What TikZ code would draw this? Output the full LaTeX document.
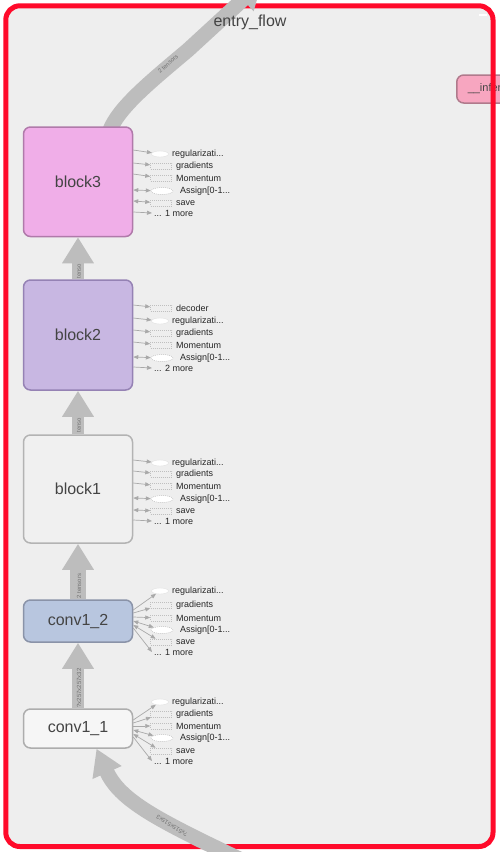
\documentclass[tikz,border=0pt]{standalone}
\usepackage{fontspec}
\setmainfont{Liberation Sans}
\usetikzlibrary{arrows.meta,shapes.geometric}
\definecolor{bgin}{HTML}{EEEEEE}
\definecolor{redb}{HTML}{FF0A2A}
\definecolor{flowc}{HTML}{BDBDBD}
\definecolor{bthreefill}{HTML}{F0AEE8}
\definecolor{bthreedraw}{HTML}{B07AAA}
\definecolor{btwofill}{HTML}{C8B7E2}
\definecolor{btwodraw}{HTML}{9582B4}
\definecolor{bonefill}{HTML}{F0F0F0}
\definecolor{bonedraw}{HTML}{B3B3B3}
\definecolor{ctwofill}{HTML}{B8C6DF}
\definecolor{ctwodraw}{HTML}{8A93A8}
\definecolor{conefill}{HTML}{F6F6F6}
\definecolor{conedraw}{HTML}{ADADAD}
\definecolor{inffill}{HTML}{F7A6C0}
\definecolor{infdraw}{HTML}{B07A8C}
\definecolor{txt}{HTML}{444444}
\definecolor{sidec}{HTML}{A9A9A9}
\pgfdeclarelayer{bottom}
\pgfdeclarelayer{back}
\pgfsetlayers{bottom,back,main}
\tikzset{
 blk/.style={draw, line width=1.5pt, rounded corners=7pt, minimum width=109pt, inner sep=0pt, text=txt, font=\fontsize{16}{19}\selectfont},
 flow/.style={draw=flowc, line width=12pt, -{Triangle[length=26pt,width=30pt]}},
 elab/.style={text=black!55, font=\fontsize{6}{7}\selectfont, inner sep=0pt},
 itemE/.style={ellipse, draw=black!12, fill=white, line width=0.4pt, minimum width=17pt, minimum height=6pt, inner sep=0pt},
 itemR/.style={rectangle, draw=black!25, dash pattern=on 1pt off 1pt, line width=0.5pt, minimum width=21pt, minimum height=6pt, inner sep=0pt},
 itemA/.style={ellipse, draw=black!25, dash pattern=on 1pt off 1pt, fill=white, line width=0.5pt, minimum width=22pt, minimum height=7pt, inner sep=0pt},
 itemN/.style={coordinate},
 ilab/.style={anchor=west, inner sep=0pt, text=black!85, font=\fontsize{9}{10}\selectfont},
 sa/.style={draw=sidec, line width=0.7pt, -{Triangle[length=5pt,width=4pt]}},
 sb/.style={draw=sidec, line width=0.7pt, {Triangle[length=5pt,width=4pt]}-{Triangle[length=5pt,width=4pt]}},
}
\newcommand{\sideitem}[9]{%
  \node[#5] (#2) at (#6,#4) {};
  \node[ilab] (#2t) at (#7,#4) {#8};
  \draw[#9] (#1.east |- 0,#3) -- (#2);
}
\begin{document}
\begin{tikzpicture}[x=1pt,y=-1pt]
\useasboundingbox (0,0) rectangle (499,852);
\begin{pgfonlayer}{bottom}
\fill[white] (0,0) rectangle (499,852);
\fill[bgin, rounded corners=14pt] (5.8,5.8) rectangle (493,846.5);
\node[draw=infdraw, fill=inffill, line width=1.5pt, rounded corners=7pt, anchor=west, minimum height=28pt, text width=60pt, align=left, inner xsep=11pt, text=txt, font=\fontsize{11}{13}\selectfont] (inf) at (456,89) {\_\_infer};
\draw[redb, line width=5pt, rounded corners=14pt] (5.8,5.8) rectangle (493,846.5);
\draw[white, line width=1.5pt] (479,15) -- (487,15);
\end{pgfonlayer}

\node[text=txt, font=\fontsize{16}{19}\selectfont] (title) at (250,22) {entry\_flow};

\node[blk, draw=bthreedraw, fill=bthreefill, minimum height=109.5pt] (b3) at (78,181.75) {block3};
\node[blk, draw=btwodraw, fill=btwofill, minimum height=110pt] (b2) at (78,335) {block2};
\node[blk, draw=bonedraw, fill=bonefill, minimum height=108pt] (b1) at (78,489) {block1};
\node[blk, draw=ctwodraw, fill=ctwofill, minimum height=42pt] (c2) at (78,621) {conv1\_2};
\node[blk, draw=conedraw, fill=conefill, minimum height=39pt] (c1) at (78,728.5) {conv1\_1};

\coordinate (topend) at (262,-18);
\coordinate (botstart) at (258,868);
\begin{pgfonlayer}{back}
\draw[flow, line width=15pt] ([xshift=31.5pt,yshift=-5pt]b3.north) .. controls (118,108) and (150,82) .. (188,50) -- (topend);
\draw[flow, line width=15pt] (botstart) -- (200,840) .. controls (150,815) and (118,797) .. ([xshift=18.5pt]c1.south);
\draw[flow] (b2.north) -- (b3.south);
\draw[flow] (b1.north) -- (b2.south);
\draw[flow, line width=16pt] (c2.north) -- (b1.south);
\draw[flow] (c1.north) -- (c2.south);
\end{pgfonlayer}
\node[elab, rotate=42] (ltop) at (168,64) {2 tensors};
\node[elab, rotate=148] (lbot) at (172,826) {?x515x515x3};
\node[elab, rotate=90] (l23) at (79,271) {tenso};
\node[elab, rotate=90] (l12) at (79,425) {tenso};
\node[elab, rotate=90] (lc1) at (79,586) {2 tensors};
\node[elab, rotate=90] (lcc) at (79,688) {?x257x257x32};

% block3
\sideitem{b3}{b3a}{150}{154}{itemE}{160}{172}{regularizati...}{sa}
\sideitem{b3}{b3b}{163}{166}{itemR}{161}{176}{gradients}{sa}
\sideitem{b3}{b3c}{174}{178}{itemR}{161}{176}{Momentum}{sa}
\sideitem{b3}{b3d}{190}{191}{itemA}{162}{180}{Assign[0-1...}{sb}
\sideitem{b3}{b3e}{201}{203}{itemR}{161}{176}{save}{sb}
\sideitem{b3}{b3f}{212}{213}{itemN}{152}{154}{... 1 more}{sa}
% block2
\sideitem{b2}{b2a}{305}{308}{itemR}{161}{176}{decoder}{sa}
\sideitem{b2}{b2b}{318}{321}{itemE}{160}{172}{regularizati...}{sa}
\sideitem{b2}{b2c}{330}{333}{itemR}{161}{176}{gradients}{sa}
\sideitem{b2}{b2d}{342}{345}{itemR}{161}{176}{Momentum}{sa}
\sideitem{b2}{b2e}{357}{358}{itemA}{162}{180}{Assign[0-1...}{sb}
\sideitem{b2}{b2f}{367}{368}{itemN}{152}{154}{... 2 more}{sa}
% block1
\sideitem{b1}{b1a}{460}{463}{itemE}{160}{172}{regularizati...}{sa}
\sideitem{b1}{b1b}{471}{474}{itemR}{161}{176}{gradients}{sa}
\sideitem{b1}{b1c}{483}{486}{itemR}{161}{176}{Momentum}{sa}
\sideitem{b1}{b1d}{498}{499}{itemA}{162}{180}{Assign[0-1...}{sb}
\sideitem{b1}{b1e}{510}{511}{itemR}{161}{176}{save}{sb}
\sideitem{b1}{b1f}{520}{521}{itemN}{152}{154}{... 1 more}{sa}
% conv1_2
\sideitem{c2}{c2a}{610}{591}{itemE}{160}{172}{regularizati...}{sa}
\sideitem{c2}{c2b}{613}{605}{itemR}{161}{176}{gradients}{sa}
\sideitem{c2}{c2c}{617}{618}{itemR}{161}{176}{Momentum}{sa}
\sideitem{c2}{c2d}{621}{630}{itemA}{162}{180}{Assign[0-1...}{sb}
\sideitem{c2}{c2e}{625}{642}{itemR}{161}{176}{save}{sb}
\sideitem{c2}{c2f}{628}{652}{itemN}{152}{154}{... 1 more}{sa}
% conv1_1
\sideitem{c1}{c1a}{720}{702}{itemE}{160}{172}{regularizati...}{sa}
\sideitem{c1}{c1b}{723}{714}{itemR}{161}{176}{gradients}{sa}
\sideitem{c1}{c1c}{726}{726}{itemR}{161}{176}{Momentum}{sa}
\sideitem{c1}{c1d}{730}{738}{itemA}{162}{180}{Assign[0-1...}{sb}
\sideitem{c1}{c1e}{734}{751}{itemR}{161}{176}{save}{sb}
\sideitem{c1}{c1f}{737}{761}{itemN}{152}{154}{... 1 more}{sa}
\end{tikzpicture}
\end{document}
